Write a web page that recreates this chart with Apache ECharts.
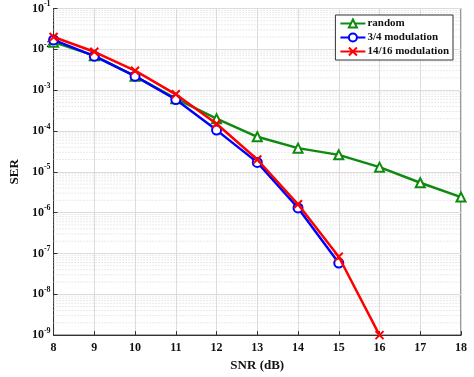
<!DOCTYPE html>
<html lang="en">
<head>
    <meta charset="UTF-8">
    <title>SER vs SNR</title>
    <script src="https://cdn.jsdelivr.net/npm/echarts/dist/echarts.min.js"></script>
    <style>
        html, body { margin: 0; padding: 0; background: #ffffff; }
        #main { width: 474px; height: 377px; }
    </style>
</head>
<body>
    <div id="main"></div>
    <script>
        // data
        var snr = [8, 9, 10, 11, 12, 13, 14, 15, 16, 17, 18];
        var serRandom = [1.5e-2, 7.0e-3, 2.2e-3, 6.2e-4, 2.0e-4, 7.2e-5, 3.8e-5, 2.6e-5, 1.3e-5, 5.4e-6, 2.4e-6];
        var ser34 = [1.7e-2, 6.8e-3, 2.2e-3, 5.9e-4, 1.05e-4, 1.7e-5, 1.3e-6, 5.8e-8];
        var ser1416 = [2.0e-2, 8.7e-3, 3.0e-3, 7.9e-4, 1.5e-4, 2.0e-5, 1.6e-6, 8.3e-8, 1.0e-9];
        var seriesNames = ['random', '3/4 modulation', '14/16 modulation'];

        var font = 'Liberation Serif';

        function pairs(ys) {
            return ys.map(function (y, i) { return [snr[i], y]; });
        }

        // dotted minor grid lines at 2..9 x 10^k, one flat line series each
        var minorSeries = [];
        for (var k = -9; k < -1; k++) {
            for (var m = 2; m <= 9; m++) {
                var v = m * Math.pow(10, k);
                minorSeries.push({
                    type: 'line',
                    data: [[8, v], [18, v]],
                    symbol: 'none',
                    silent: true,
                    z: 1,
                    lineStyle: { color: '#d4d4d4', type: [1, 2], width: 1 }
                });
            }
        }

        var chart = echarts.init(document.getElementById('main'));

        var option = {
            animation: false,
            grid: {
                left: 38, right: 13, top: 5, bottom: 38,
                show: true, borderColor: '#333', borderWidth: 1
            },
            legend: {
                data: seriesNames,
                orient: 'vertical',
                right: 21,
                top: 15,
                backgroundColor: '#fff',
                borderColor: '#333',
                borderWidth: 1,
                padding: [3, 4, 3, 4],
                itemGap: 3,
                itemWidth: 25,
                itemHeight: 10,
                textStyle: { fontFamily: font, fontWeight: 'bold', fontSize: 11, color: '#111', padding: [0, 0, 0, -3] }
            },
            xAxis: {
                type: 'value',
                min: 8, max: 18, interval: 1,
                name: 'SNR (dB)',
                nameLocation: 'middle',
                nameGap: 18,
                nameTextStyle: { fontFamily: font, fontWeight: 'bold', fontSize: 13, color: '#111' },
                axisLine: { lineStyle: { color: '#333' } },
                axisTick: { inside: true, length: 4, lineStyle: { color: '#333' } },
                axisLabel: { fontFamily: font, fontWeight: 'bold', fontSize: 12, color: '#111', margin: 7 },
                splitLine: { show: true, lineStyle: { color: '#dcdcdc', width: 1 } }
            },
            yAxis: {
                type: 'log',
                logBase: 10,
                min: 1e-9, max: 1e-1,
                name: 'SER',
                nameLocation: 'middle',
                nameGap: 32,
                nameTextStyle: { fontFamily: font, fontWeight: 'bold', fontSize: 13, color: '#111' },
                axisLine: { lineStyle: { color: '#333' } },
                axisTick: { inside: true, length: 4, lineStyle: { color: '#333' } },
                axisLabel: {
                    margin: 3,
                    formatter: function (v) {
                        var e = Math.round(Math.log10(v));
                        return '{b|10}{s|' + e + '}';
                    },
                    rich: {
                        b: { fontFamily: font, fontWeight: 'bold', fontSize: 12, color: '#111' },
                        s: { fontFamily: font, fontWeight: 'bold', fontSize: 8, color: '#111', verticalAlign: 'top', padding: [0, 0, 9, 0] }
                    }
                },
                splitLine: { show: true, lineStyle: { color: '#dcdcdc', width: 1 } }
            },
            series: minorSeries.concat([
                {
                    name: seriesNames[0],
                    type: 'line',
                    data: pairs(serRandom),
                    z: 3,
                    color: '#0f8a0f',
                    lineStyle: { width: 2.5 },
                    symbol: 'emptyTriangle',
                    symbolSize: 9,
                    itemStyle: { borderWidth: 2 }
                },
                {
                    name: seriesNames[1],
                    type: 'line',
                    data: pairs(ser34),
                    z: 4,
                    color: '#0000ff',
                    lineStyle: { width: 2.5 },
                    symbol: 'emptyCircle',
                    symbolSize: 9,
                    itemStyle: { borderWidth: 2 }
                },
                {
                    name: seriesNames[2],
                    type: 'line',
                    data: pairs(ser1416),
                    z: 5,
                    color: '#ff0000',
                    lineStyle: { width: 2.5 },
                    symbol: 'path://M0,0L10,10M10,0L0,10',
                    symbolSize: 8,
                    itemStyle: { borderColor: '#ff0000', borderWidth: 2 }
                }
            ])
        };

        chart.setOption(option);
    </script>
</body>
</html>
